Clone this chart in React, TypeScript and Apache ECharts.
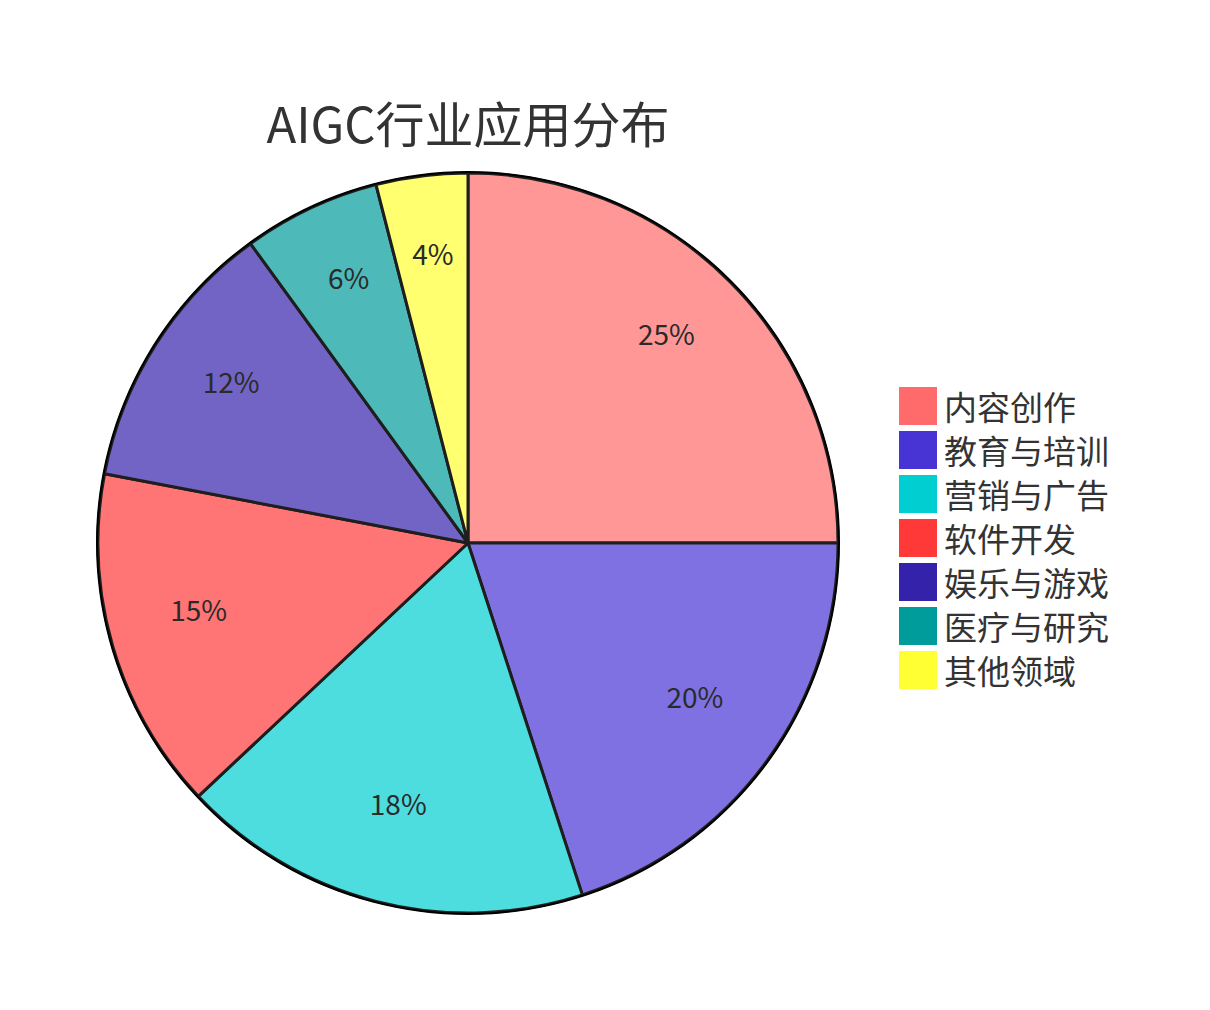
import React, { useEffect, useRef } from "react";
import * as echarts from "echarts";

const categories = ["内容创作", "教育与培训", "营销与广告", "软件开发", "娱乐与游戏", "医疗与研究", "其他领域"];
const values = [25, 20, 18, 15, 12, 6, 4];
const colors = ["#FF6B6B", "#4834D4", "#00CED1", "#FF3838", "#3522AA", "#009B9B", "#FFFF33"];

function lighten(hex: string, a: number): string {
  const n = parseInt(hex.slice(1), 16);
  const r = (n >> 16) & 255, g = (n >> 8) & 255, b = n & 255;
  const f = (c: number) => Math.round(c * a + 255 * (1 - a));
  return `rgb(${f(r)},${f(g)},${f(b)})`;
}

const FONT = "'Noto Sans CJK SC', 'Noto Sans', sans-serif";

export default function App() {
  const ref = useRef<HTMLDivElement>(null);
  useEffect(() => {
    if (!ref.current) return;
    const chart = echarts.init(ref.current, undefined, { renderer: "svg" });
    const total = values.reduce((s, v) => s + v, 0);
    chart.setOption({
      animation: false,
      backgroundColor: "#ffffff",
      title: {
        text: "AIGC行业应用分布",
        left: 463,
        top: 92,
        textAlign: "center",
        textStyle: { fontFamily: FONT, fontSize: 49, fontWeight: "normal", color: "#333333" },
      },
      legend: {
        orient: "vertical",
        left: 899,
        top: 387,
        padding: 0,
        itemWidth: 38,
        itemHeight: 38,
        itemGap: 6,
        icon: "rect",
        selectedMode: false,
        itemStyle: { borderWidth: 0 },
        textStyle: { fontFamily: FONT, fontSize: 33, lineHeight: 38, color: "#333333", padding: [0, 0, 0, 2] },
        data: categories.map((c, i) => ({ name: c, itemStyle: { color: colors[i], borderWidth: 0 } })),
      },
      series: [
        {
          type: "pie",
          center: [468, 543],
          radius: [0, 370],
          startAngle: 90,
          clockwise: true,
          label: { show: false },
          labelLine: { show: false },
          emphasis: { disabled: true },
          itemStyle: { borderColor: "#1e1e1e", borderWidth: 3 },
          data: categories.map((c, i) => ({
            name: c,
            value: values[i],
            itemStyle: { color: lighten(colors[i], 0.7) },
          })),
        },
        {
          type: "pie",
          center: [468, 543],
          radius: [185, 370],
          startAngle: 90,
          clockwise: true,
          silent: true,
          itemStyle: { color: "rgba(0,0,0,0)", borderWidth: 0 },
          label: {
            show: true,
            position: "inside",
            fontFamily: FONT,
            fontSize: 28,
            color: "#2a2a2a",
            formatter: (p: any) => `${Math.round((p.value / total) * 100)}%`,
          },
          labelLayout: { dy: -12 },
          labelLine: { show: false },
          emphasis: { disabled: true },
          data: categories.map((c, i) => ({ name: c, value: values[i] })),
        },
        {
          type: "pie",
          center: [468, 543],
          radius: [370, 372],
          silent: true,
          label: { show: false },
          labelLine: { show: false },
          emphasis: { disabled: true },
          itemStyle: { color: "#000000", borderWidth: 0 },
          data: [{ name: "_outline", value: 1 }],
        },
      ],
    });
    return () => chart.dispose();
  }, []);
  return <div ref={ref} style={{ position: "absolute", left: 0, top: 0, width: 1210, height: 1010 }} />;
}
